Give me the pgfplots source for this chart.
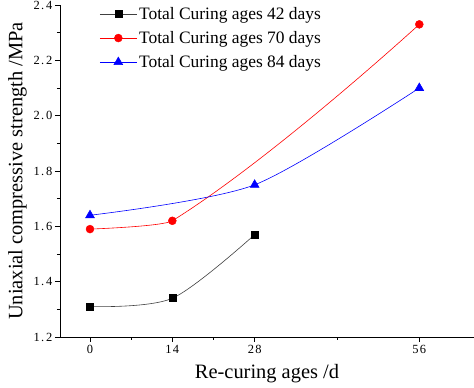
\documentclass[border=0pt]{standalone}
\usepackage{fontspec}
\setmainfont{Liberation Serif}
\newfontfamily\tickfont[LetterSpace=10]{Liberation Serif}
\usepackage{pgfplots}
\pgfplotsset{compat=1.18}
\begin{document}
\begin{tikzpicture}
\begin{axis}[
  name=ax,
  scale only axis,
  width=414bp, height=332bp,
  xmin=-5.1, xmax=65.3,
  ymin=1.2, ymax=2.4,
  axis x line*=bottom, axis y line*=left,
  axis line style={-, line width=0.8pt},
  xtick={0,14,28,56},
  xticklabels={0,14,28,56},
  minor xtick={7,21,42},
  ytick={1.2,1.4,1.6,1.8,2.0,2.2,2.4},
  yticklabels={1.\,2,1.\,4,1.\,6,1.\,8,2.\,0,2.\,2,2.\,4},
  minor ytick={1.3,1.5,1.7,1.9,2.1,2.3},
  tick align=outside,
  major tick length=5bp, minor tick length=3bp,
  tick style={black, line width=0.8pt},
  tick label style={font=\tickfont\fontsize{12.5}{14}\selectfont},
  yticklabel style={xshift=1bp},
  xlabel={Re-curing ages /d},
  ylabel={Uniaxial compressive strength /MPa},
  label style={font=\fontsize{20.5}{24}\selectfont},
  xlabel style={yshift=-4bp},
  legend style={draw=none, fill=none, at={(0.095,1.0)}, anchor=north west,
    font=\fontsize{17.5}{19}\selectfont, row sep=6.5bp, inner sep=0pt},
  legend cell align=left,
  legend image code/.code={\draw[mark repeat=2,mark phase=2] plot coordinates {(0bp,0bp) (18.5bp,0bp) (37bp,0bp)};},
]
\addplot[black!75, line width=0.6pt, smooth, mark=square*, mark size=3.5bp, mark options={fill=black, draw=black, solid}]
  coordinates {(0,1.31) (14,1.34) (28,1.57)};
\addlegendentry{Total Curing ages 42 days}
% red series: curve drawn in two clipped pieces, markers on top
\begin{scope}
\clip (axis cs:-6,1.2) rectangle (axis cs:14,2.4);
\addplot[red, line width=0.6pt, smooth, tension=0.1, forget plot]
  coordinates {(0,1.59) (14,1.62) (56,2.33)};
\end{scope}
\begin{scope}
\clip (axis cs:14,1.2) rectangle (axis cs:66,2.4);
\addplot[red, line width=0.6pt, smooth, tension=1.1, forget plot]
  coordinates {(0,1.59) (14,1.62) (56,2.33)};
\end{scope}
\addplot[red, only marks, mark=*, mark size=4bp, mark options={fill=red, draw=red, solid},
  legend image code/.code={\draw[red, line width=0.6pt] (0bp,0bp) -- (37bp,0bp); \fill[red] (18.5bp,0bp) circle (4bp);}]
  coordinates {(0,1.59) (14,1.62) (56,2.33)};
\addlegendentry{Total Curing ages 70 days}
\addplot[blue, line width=0.6pt, smooth, tension=0.45, mark=triangle*, mark size=5bp, mark options={fill=blue, draw=blue, solid}]
  coordinates {(0,1.64) (28,1.75) (56,2.10)};
\addlegendentry{Total Curing ages 84 days}
\end{axis}
\pgfresetboundingbox
\path[use as bounding box] ([xshift=-60bp,yshift=-51bp]ax.south west) rectangle ([yshift=5bp]ax.north east);
\end{tikzpicture}
\end{document}
